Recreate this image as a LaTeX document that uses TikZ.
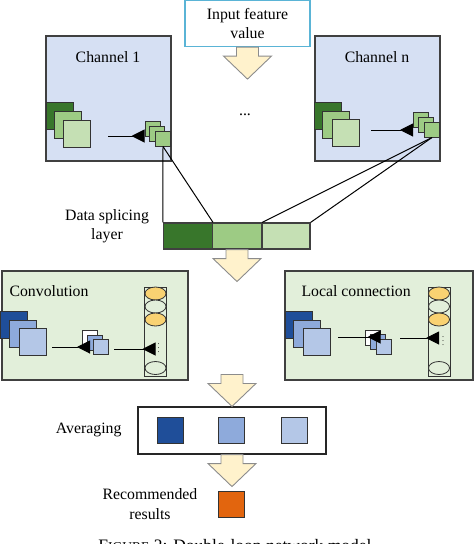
\documentclass[tikz,border=0pt]{standalone}
\usepackage{fontspec}
\setmainfont{Liberation Serif}
\usepackage{xcolor}
\usepackage{tikz}
\usetikzlibrary{shapes.geometric, arrows.meta, calc}

\definecolor{chanfill}{HTML}{D6E0F3}
\definecolor{layfill}{HTML}{E2EFDA}
\definecolor{inborder}{HTML}{5AB4D6}
\definecolor{gdark}{HTML}{38762B}
\definecolor{gmid}{HTML}{9DCB84}
\definecolor{glight}{HTML}{C5E0B4}
\definecolor{bdark}{HTML}{1F4E99}
\definecolor{bmid}{HTML}{8EAADB}
\definecolor{blight}{HTML}{B4C7E7}
\definecolor{cellyel}{HTML}{F9D272}
\definecolor{resorange}{HTML}{E2650E}
\definecolor{arrowfill}{HTML}{FFF2CC}
\definecolor{arrowline}{HTML}{8C8C8C}

\tikzset{
  box/.style={draw=black!75, line width=1.1pt, inner sep=0pt},
  sq/.style={draw=black!80, line width=1pt, minimum size=27pt, inner sep=0pt},
  ssq/.style={sq, minimum size=15pt},
  tri/.style={line width=1pt, -{Triangle[reversed, length=13pt, width=13pt]}},
  col/.style={draw=black!80, line width=1pt, minimum width=22pt, minimum height=89pt, inner sep=0pt},
  cell/.style={draw=black!80, ellipse, line width=0.8pt, minimum width=21pt, minimum height=13pt, inner sep=0pt},
  vdots/.style={font=\fontsize{8}{8}\selectfont, inner sep=0pt},
  fatarrow/.pic={
    \draw[fill=arrowfill, draw=arrowline, line width=0.9pt]
      (-11,0) -- (-11,9) -- (-24,9) -- (0,32) -- (24,9) -- (11,9) -- (11,0) -- cycle;
  }
}

\begin{document}
\begin{tikzpicture}[x=1pt, y=-1pt, font=\fontsize{15.8}{19.5}\selectfont]
        \useasboundingbox (0,0) rectangle (474,544);

        % input
        \node[draw=inborder, line width=1.2pt, fill=white, minimum width=125pt, minimum height=46pt, align=center, inner sep=0pt] (in) at (247.5,23.5) {Input feature\\value};
        \pic at (in.south) {fatarrow};

        % channel 1
        \node[box, fill=chanfill, minimum width=125pt, minimum height=125pt] (ch1) at (108.5,98.5) {};
        \node (ch1t) at (108,57) {Channel 1};
        \node[sq, fill=gdark] (c1a) at (59.5,116) {};
        \node[sq, fill=gmid] (c1b) at (67.5,124.5) {};
        \node[sq, fill=glight] (c1c) at (77,133.5) {};
        \node[ssq, fill=gmid] (c1x) at (152.5,128.5) {};
        \node[ssq, fill=gmid] (c1y) at (157,133.5) {};
        \node[ssq, fill=gmid] (c1z) at (163,138.5) {};
        \coordinate (c1p) at (108,136);
        \draw[tri] (c1p) -- (c1p -| c1x.west);

        \node (dots) at (245,115) {...};

        % channel n
        \node[box, fill=chanfill, minimum width=125pt, minimum height=125pt] (chn) at (377.5,98.5) {};
        \node (chnt) at (377,57) {Channel n};
        \node[sq, fill=gdark] (cna) at (328,116) {};
        \node[sq, fill=gmid] (cnb) at (335.5,124.5) {};
        \node[sq, fill=glight] (cnc) at (345.5,133) {};
        \node[ssq, fill=gmid] (cnx) at (421,120) {};
        \node[ssq, fill=gmid] (cny) at (426,125) {};
        \node[ssq, fill=gmid] (cnz) at (432,129.5) {};
        \coordinate (cnp) at (371,130);
        \draw[tri] (cnp) -- (cnp -| cnx.west);

        % splicing layer
        \node[align=center] (splt) at (107,226) {Data splicing\\layer};
        \node[box, fill=gdark, minimum width=49pt, minimum height=26pt] (seg1) at (188,236) {};
        \node[box, fill=gmid, minimum width=49pt, minimum height=26pt] (seg2) at (237,236) {};
        \node[box, fill=glight, minimum width=48pt, minimum height=26pt] (seg3) at (286,236) {};

        % ch1 -> layer
        \draw[line width=1pt] (c1z.south) -- (seg1.north west);
        \draw[line width=1pt] (c1z.south) -- (seg1.north east);
        % chn -> layer
        \draw[line width=1pt] (cnz.south) -- (seg2.north east);
        \draw[line width=1pt] (cnz.south) -- (seg3.north east);

        \pic at (seg2.south) {fatarrow};

        % convolution
        \node[box, fill=layfill, minimum width=186pt, minimum height=109pt] (conv) at (95,325.5) {};
        \node[anchor=west] (convt) at (6,291) {Convolution};
        \node[sq, fill=bdark] (cva) at (13.5,325) {};
        \node[sq, fill=bmid] (cvb) at (23,333.5) {};
        \node[sq, fill=blight] (cvc) at (32.5,342) {};
        \node[ssq, fill=white] (cvx) at (90,337.5) {};
        \node[ssq, fill=bmid] (cvy) at (94.5,343) {};
        \node[ssq, fill=blight] (cvz) at (100.5,347) {};
        \node[col] (cvcol) at (155.5,331.5) {};
        \node[cell, fill=cellyel] (cv1) at (155.5,293.5) {};
        \node[cell, fill=layfill] (cv2) at (155.5,306.5) {};
        \node[cell, fill=cellyel] (cv3) at (155.5,319.5) {};
        \node[cell, fill=layfill] (cv4) at (155.5,368) {};
        \node[vdots] (cvd) at (158.5,345) {$\vdots$};
        \coordinate (cvp) at (52,347);
        \draw[tri] (cvp) -- (cvp -| cvx.center);
        \coordinate (cvq) at (114,349);
        \draw[tri] (cvq) -- (cvq -| cvcol.center);

        % local connection
        \node[box, fill=layfill, minimum width=188pt, minimum height=109pt] (loc) at (379,325.5) {};
        \node[anchor=west] (loct) at (298,291) {Local connection};
        \node[sq, fill=bdark] (lca) at (299,325) {};
        \node[sq, fill=bmid] (lcb) at (306.5,333.5) {};
        \node[sq, fill=blight] (lcc) at (316.5,341.5) {};
        \node[ssq, fill=white] (lcx) at (372.5,337.5) {};
        \node[ssq, fill=bmid] (lcy) at (378,342) {};
        \node[ssq, fill=blight] (lcz) at (384,347) {};
        \node[col] (lccol) at (439,331.5) {};
        \node[cell, fill=cellyel] (lc1) at (439,293.5) {};
        \node[cell, fill=layfill] (lc2) at (439,306.5) {};
        \node[cell, fill=cellyel] (lc3) at (439,319.5) {};
        \node[cell, fill=layfill] (lc4) at (439,368) {};
        \node[vdots] (lcd) at (443,338) {$\vdots$};
        \coordinate (lcp) at (338,337);
        \draw[tri] (lcp) -- (lcp -| lcx.east);
        \coordinate (lcq) at (400,338);
        \draw[tri] (lcq) -- (lcq -| lccol.center);

        % averaging
        \node[draw=black!85, line width=1.1pt, fill=white, minimum width=188pt, minimum height=47pt, inner sep=0pt] (avg) at (232,430.5) {};
        \pic at ($(avg.north)+(0,-32)$) {fatarrow};
        \node[anchor=east] (avgt) at (125,430) {Averaging};
        \node[sq, fill=bdark, minimum size=26pt] (av1) at (170,430.5) {};
        \node[sq, fill=bmid, minimum size=26pt] (av2) at (231.5,430.5) {};
        \node[sq, fill=blight, minimum size=26pt] (av3) at (294,430.5) {};

        % result
        \pic at (avg.south) {fatarrow};
        \node[sq, fill=resorange, minimum size=26pt] (res) at (231.5,504) {};
        \node[align=center] (rest) at (150,504) {Recommended\\results};

        \node[anchor=base, font=\fontsize{17.5}{21}\selectfont] (cap) at (235,551) {F{\fontsize{13.5}{16}\selectfont IGURE} 2: Double-loop network model};
\end{tikzpicture}
\end{document}
